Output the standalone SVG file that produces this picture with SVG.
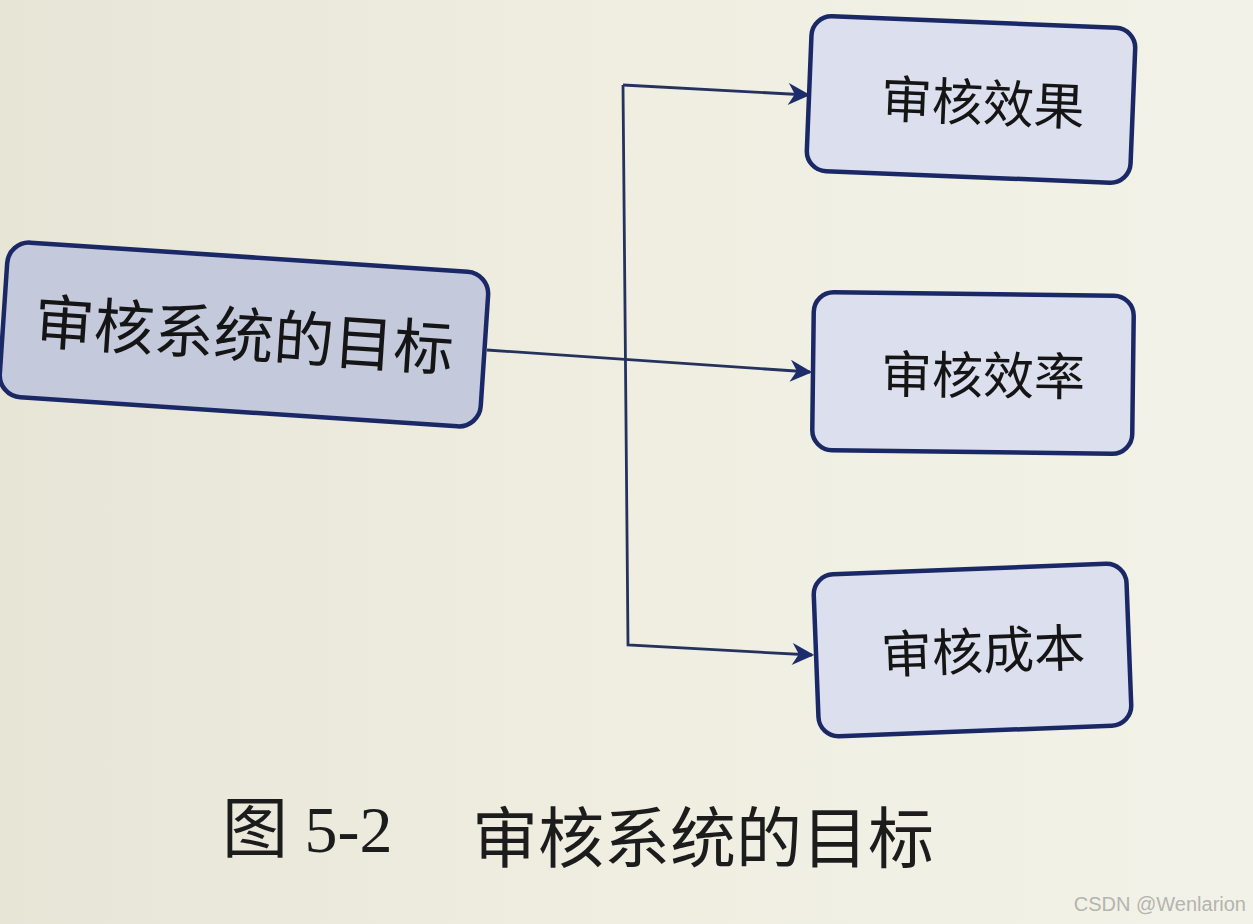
<svg xmlns="http://www.w3.org/2000/svg" width="1253" height="924" viewBox="0 0 1253 924">
<defs>
<linearGradient id="bg" x1="0" y1="0" x2="1" y2="0">
<stop offset="0" stop-color="#e6e5d6"/>
<stop offset="0.5" stop-color="#efeee1"/>
<stop offset="1" stop-color="#f3f2e8"/>
</linearGradient>
<marker id="arr" viewBox="0 0 10 10" refX="9" refY="5" markerWidth="30" markerHeight="22" markerUnits="userSpaceOnUse" orient="auto">
<path d="M0,0 L10,5 L0,10 L3,5 Z" fill="#1d2d6b"/>
</marker>
<style>
.box{stroke:#1b2866;stroke-width:4.5}
.main{fill:#c5c9dc}
.sub{fill:#dcdfee}
.t{font-family:"Noto Sans CJK SC","Noto Sans CJK JP",sans-serif;fill:#151515;text-anchor:middle}
.c{fill:none;stroke:#26325e;stroke-width:2.8}
.cap{font-family:"Liberation Serif","Noto Sans CJK SC",serif;fill:#1c1c1c}
</style>
</defs>
<rect width="1253" height="924" fill="url(#bg)"/>
<g id="connectors">
<path class="c" d="M623,85 L808,95" marker-end="url(#arr)"/>
<path class="c" d="M623,85 L628,645 L812,655" marker-end="url(#arr)"/>
<path class="c" d="M487,350 L810,372" marker-end="url(#arr)"/>
</g>
<g id="main" transform="rotate(3.8 244 334)">
<rect class="box main" x="3" y="257" width="482" height="155" rx="22"/>
<text class="t" x="244" y="357" font-size="60">审核系统的目标</text>
</g>
<g id="effect" transform="rotate(2.3 971 100)">
<rect class="box sub" x="809" y="22" width="324" height="155" rx="20"/>
<text class="t" x="983" y="121" font-size="51">审核效果</text>
</g>
<g id="efficiency" transform="rotate(0.7 973 373)">
<rect class="box sub" x="813" y="294" width="320" height="158" rx="20"/>
<text class="t" x="983" y="394" font-size="51">审核效率</text>
</g>
<g id="cost" transform="rotate(-2.2 973 650)">
<rect class="box sub" x="816" y="569" width="313" height="162" rx="20"/>
<text class="t" x="983" y="670" font-size="51">审核成本</text>
</g>
<g id="caption">
<text class="cap" x="222" y="852" font-size="66">图 5-2</text>
<text class="cap" x="472" y="862" font-size="66" font-family="Noto Sans CJK SC, sans-serif">审核系统的目标</text>
</g>
<text x="1246" y="911" font-family="Liberation Sans, sans-serif" font-size="20" fill="#b4b4b0" text-anchor="end">CSDN @Wenlarion</text>
</svg>
